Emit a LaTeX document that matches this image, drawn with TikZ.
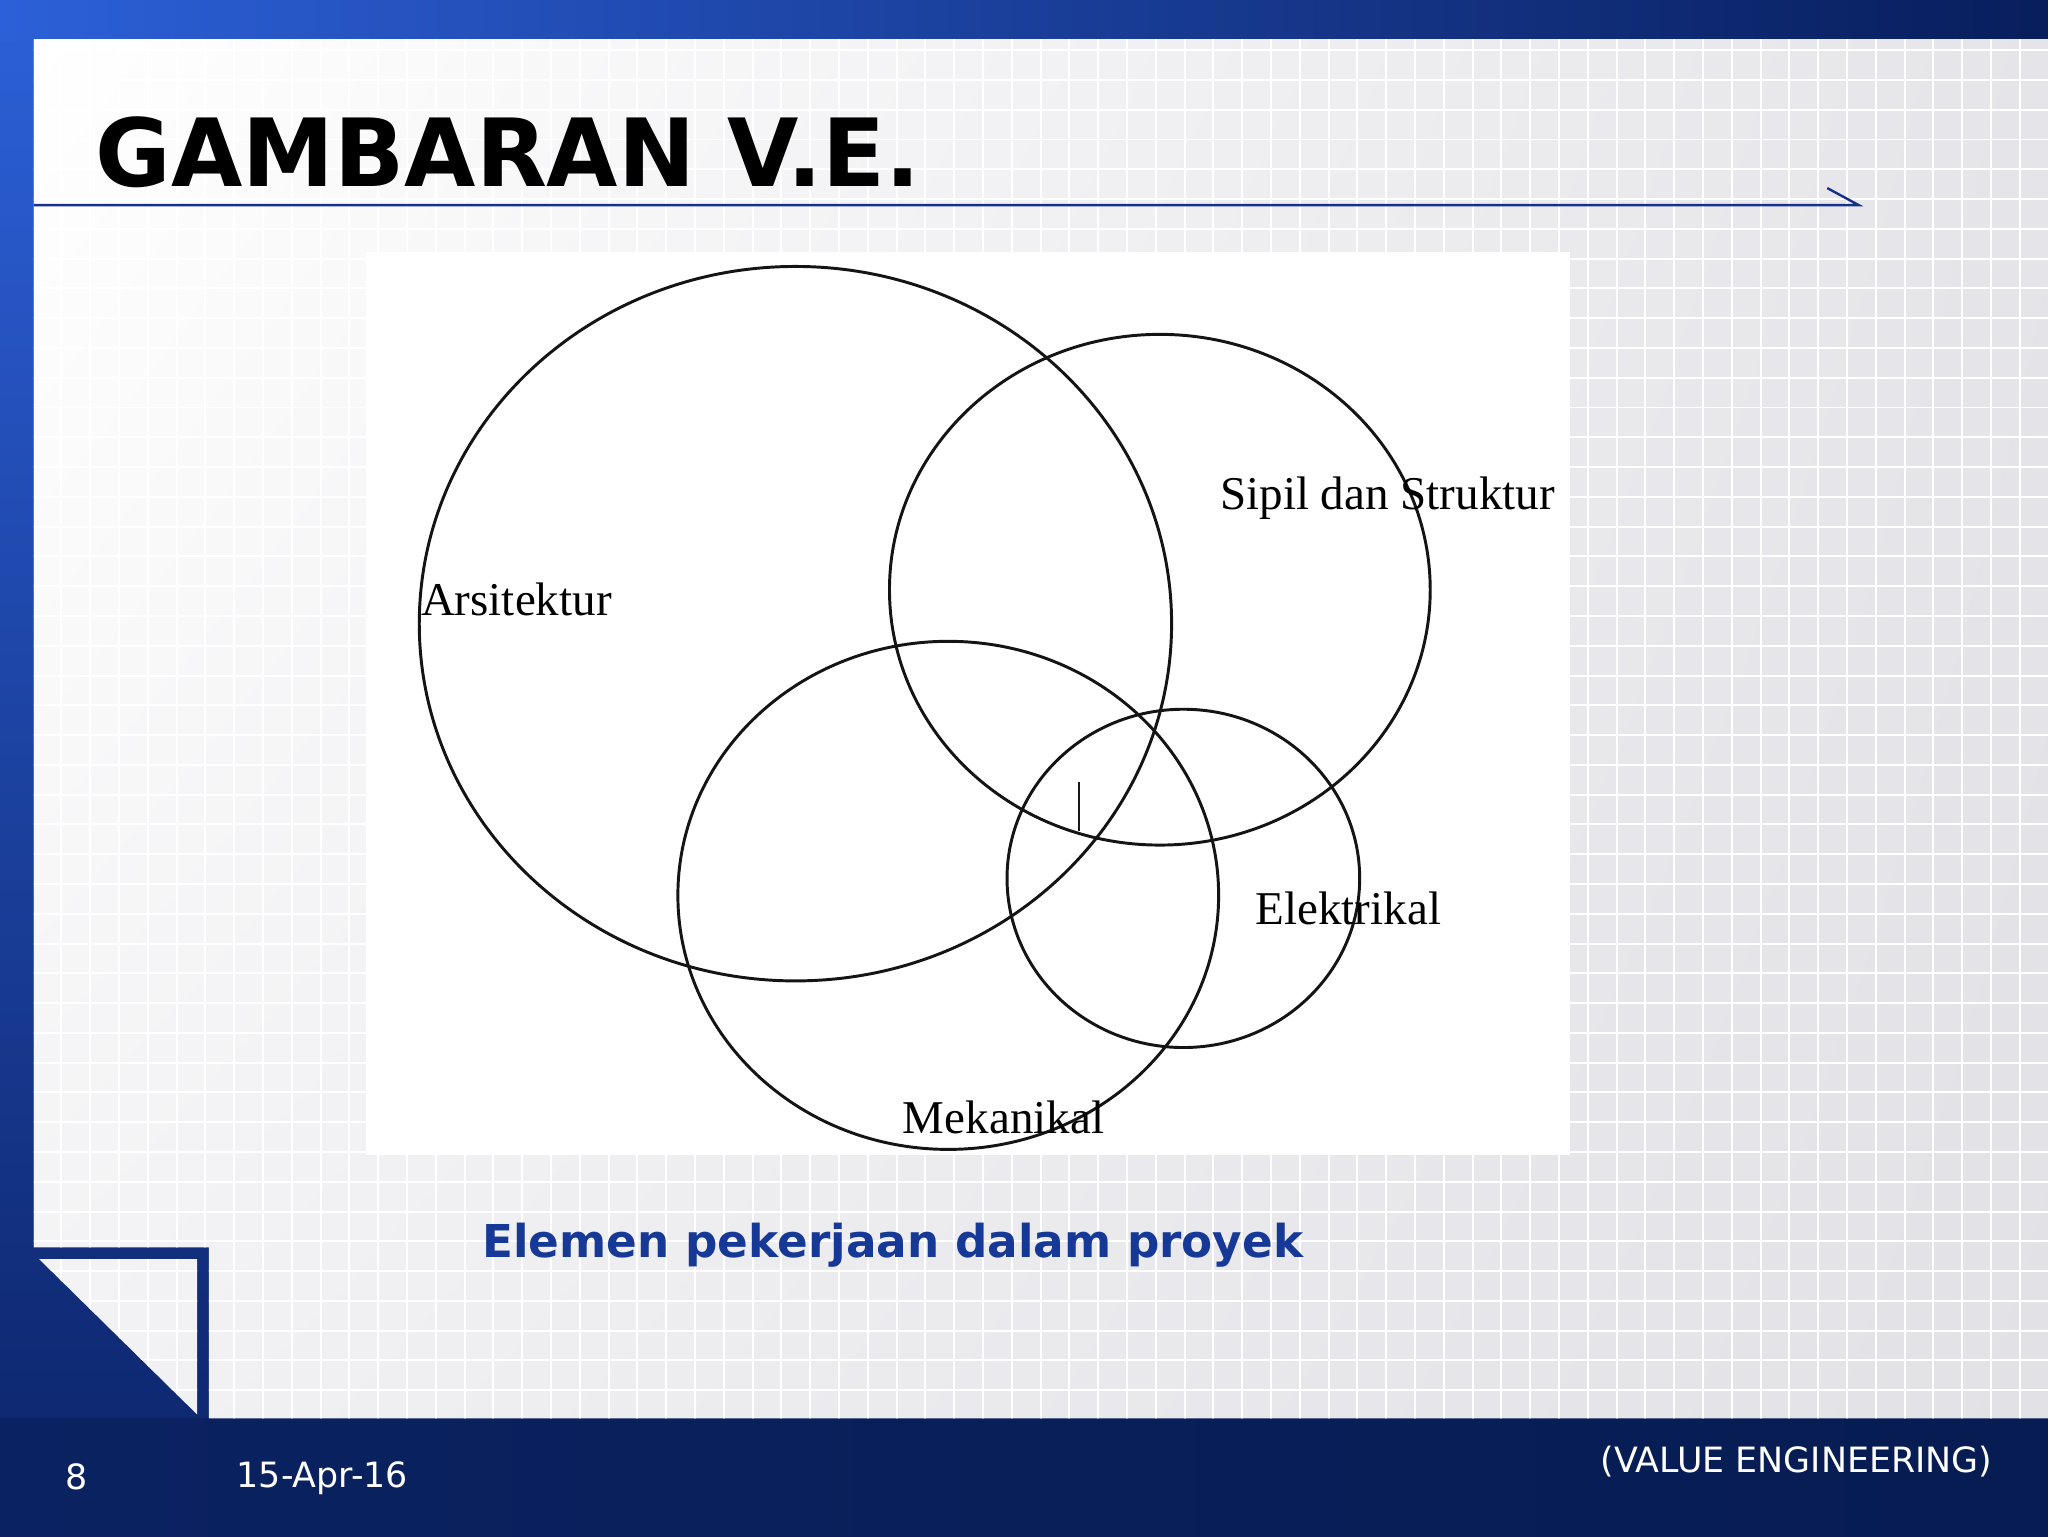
\documentclass[tikz,border=0pt]{standalone}
\usepackage{fontspec}
\usetikzlibrary{shadings}
\setmainfont{Liberation Serif}
\newfontfamily\vfont{DejaVu Sans}
\definecolor{bandA}{RGB}{44,96,216}
\definecolor{bandB}{RGB}{34,78,192}
\definecolor{bandC}{RGB}{12,36,105}
\definecolor{navyR}{RGB}{8,30,92}
\definecolor{navyL}{RGB}{11,34,98}
\definecolor{navyR2}{RGB}{6,28,82}
\definecolor{grayUR}{RGB}{229,229,233}
\definecolor{grayLL}{RGB}{242,242,244}
\definecolor{grayLR}{RGB}{225,225,230}
\definecolor{lineblue}{RGB}{20,50,140}
\definecolor{capblue}{RGB}{22,56,150}
\begin{document}
\begin{tikzpicture}[x=0.6pt,y=0.6pt,
  venn/.style={draw=black!92, line width=1.35pt},
  lbl/.style={anchor=base west, inner sep=0pt, text=black, font=\fontsize{21.6pt}{21.6pt}\selectfont},
  foot/.style={anchor=base west, inner sep=0pt, text=white, font=\vfont\fontsize{16pt}{16pt}\selectfont},
  gridline/.style={white, line width=0.9pt},
  titleline/.style={draw=lineblue, line width=1.1pt, line join=miter}
]
\useasboundingbox (0,0) rectangle (1568,-1176);
% frame
\shade[top color=bandA, middle color=bandB, bottom color=bandC] (0,0) rectangle (1568,-1176);
\shade[left color=bandA, right color=navyR] (0,0) rectangle (1568,-31);
\shade[left color=navyL, right color=navyR2] (0,-1086) rectangle (1568,-1176);
% content area
\def\contentshape{(26,-30) -- (1568,-30) -- (1568,-1086) -- (160,-1086) -- (160,-955) -- (26,-955) -- cycle (30,-964) -- (151,-964) -- (151,-1083) -- cycle}
\shade[upper left=white, upper right=grayUR, lower left=grayLL, lower right=grayLR] \contentshape;
\begin{scope}
  \clip \contentshape;
  \foreach \i in {-53,...,18} \draw[gridline] ({1171.5+22.05*\i},-28) -- ({1171.5+22.05*\i},-1090);
  \foreach \j in {-34,...,12} \draw[gridline] (24,{-813.6-22.8*\j}) -- (1570,{-813.6-22.8*\j});
\end{scope}
% picture box
\fill[white] (280,-193) rectangle (1202,-884);
% title
\node[anchor=base west, inner sep=0pt, text=black, font=\vfont\bfseries\fontsize{43.2pt}{43.2pt}\selectfont] (title) at (73,-143) {\scalebox{0.98}[1]{GAMBARAN V.E.}};
\coordinate (tl0) at (26,-157);
\coordinate (tl1) at (1423,-157);
\coordinate (tl2) at (1399,-144);
\draw[titleline] (tl0) -- (tl1) -- (tl2);
% venn
\coordinate (cA) at (609,-477.5);
\coordinate (cS) at (888,-451.5);
\coordinate (cM) at (726,-685.5);
\coordinate (cE) at (906,-672.5);
\draw[venn] (cA) ellipse [x radius=288, y radius=273.5];
\draw[venn] (cS) ellipse [x radius=207, y radius=195.5];
\draw[venn] (cM) ellipse [x radius=207, y radius=194.5];
\draw[venn] (cE) ellipse [x radius=135, y radius=129.5];
\coordinate (tk0) at (826,-599);
\coordinate (tk1) at (826,-636);
\draw[black!90, line width=0.9pt] (tk0) -- (tk1);
\node[lbl] (ars) at (322,-471) {Arsitektur};
\node[lbl] (sip) at (934,-390) {Sipil dan Struktur};
\node[lbl] (ele) at (961,-708) {Elektrikal};
\node[lbl] (mek) at (691,-868) {Mekanikal};
% caption
\node[anchor=base west, inner sep=0pt, text=capblue, font=\vfont\bfseries\fontsize{20.8pt}{20.8pt}\selectfont] (cap) at (369,-963) {Elemen pekerjaan dalam proyek};
% footer
\node[foot] (pg) at (50,-1140) {8};
\node[foot] (date) at (181,-1139) {15-Apr-16};
\node[foot] (ve) at (1225,-1127) {(VALUE ENGINEERING)};
\end{tikzpicture}
\end{document}
